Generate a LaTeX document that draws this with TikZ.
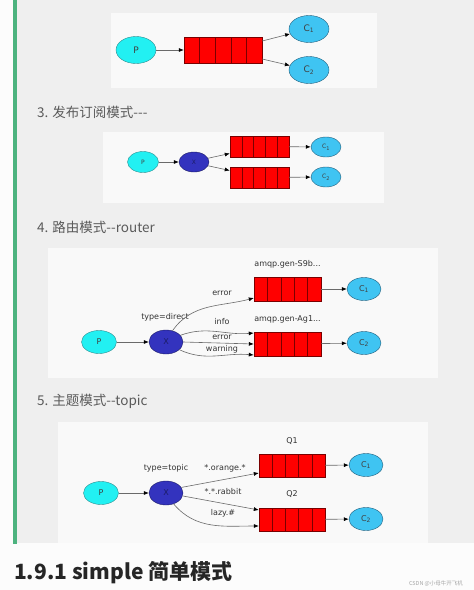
\documentclass[tikz,border=0pt]{standalone}
\usepackage{fontspec}
\setmainfont{DejaVu Sans}
\newfontfamily\cjk{Noto Sans CJK SC}
\usetikzlibrary{arrows.meta, positioning, calc}
\usetikzlibrary{shapes.geometric}

\definecolor{pagewhite}{HTML}{FCFCFC}
\definecolor{pagegray}{HTML}{EFEFEF}
\definecolor{panelwhite}{HTML}{F9F9F9}
\definecolor{barGreen}{HTML}{4DB37F}
\definecolor{pcyan}{HTML}{22F0F2}
\definecolor{pborder}{HTML}{2B8C8E}
\definecolor{cblue}{HTML}{3FC4F2}
\definecolor{cborder}{HTML}{22607E}
\definecolor{xblue}{HTML}{3333BE}
\definecolor{xborder}{HTML}{1C1C66}
\definecolor{qred}{HTML}{FF0000}
\definecolor{qborder}{HTML}{7A0000}
\definecolor{linegray}{HTML}{6A6A6A}
\definecolor{textgray}{HTML}{333333}
\definecolor{headgray}{HTML}{5A5A5A}

\begin{document}
\begin{tikzpicture}[x=1pt, y=-1pt,
    every node/.style={font=\fontsize{8}{9}\selectfont, text=textgray, inner sep=1pt}, % labels of the three big diagrams
    panel/.style={fill=panelwhite, draw=none},
    heading/.style={anchor=west, font=\cjk\fontsize{13.5}{16}\selectfont, text=headgray},
    producer/.style={ellipse, draw=pborder, fill=pcyan, minimum width=35pt, minimum height=23pt, inner sep=0pt, text=black!75},
    exchange/.style={ellipse, draw=xborder, fill=xblue, minimum width=34pt, minimum height=24pt, inner sep=0pt, text=xborder},
    consumer/.style={ellipse, draw=cborder, fill=cblue, minimum width=34pt, minimum height=23pt, inner sep=0pt, text=black!75},
    queue/.style={rectangle, draw=qborder, fill=qred, minimum width=67pt, minimum height=24pt, inner sep=0pt,
        path picture={\foreach \k in {1,...,4} \draw[qborder] ($(path picture bounding box.north west)!\k/5!(path picture bounding box.north east)$) -- ($(path picture bounding box.south west)!\k/5!(path picture bounding box.south east)$);}},
    small/.style={minimum width=30pt, minimum height=20pt, font=\fontsize{6}{7}\selectfont},
    line/.style={draw=linegray, -{Latex[length=5pt, width=4pt, color=black]}, line width=0.6pt}
]

% page background
\path[fill=pagewhite] (0,0) rectangle (474,590);
\useasboundingbox (0,0) rectangle (474,590);
\path[fill=pagegray] (17,0) rectangle (474,543);
\path[fill=barGreen] (13,0) rectangle (17,544);

% simple / work queues
\path[panel] (111,13) rectangle (377,88);
\node[producer, minimum width=40pt, minimum height=27pt, font=\fontsize{9}{10}\selectfont] (p1) at (136,50) {P};
\node[queue, minimum width=78pt, minimum height=26pt] (q1) at (223,50) {};
\node[consumer, minimum width=40pt, minimum height=27pt, font=\fontsize{9}{10}\selectfont] (c11) at (309,29) {C\textsubscript{1}};
\node[consumer, minimum width=40pt, minimum height=27pt, font=\fontsize{9}{10}\selectfont] (c12) at (309,70) {C\textsubscript{2}};
\path[line] (p1) -- (q1);
\path[line] ([yshift=9pt]q1.east) -- (c11);
\path[line] ([yshift=-9pt]q1.east) -- (c12);

% publish / subscribe
\node[heading] (h2) at (36,112) {3. 发布订阅模式---};
\path[panel] (103,132) rectangle (384,203);
\node[producer, small, minimum width=31pt, minimum height=21pt] (p2) at (143,162) {P};
\node[exchange, small] (x2) at (194,162) {X};
\node[queue, minimum width=59pt, minimum height=21pt] (q21) at (259.5,146.5) {};
\node[queue, minimum width=59pt, minimum height=21pt] (q22) at (259.5,177.5) {};
\node[consumer, small] (c21) at (326,147) {C\textsubscript{1}};
\node[consumer, small] (c22) at (326,177) {C\textsubscript{2}};
\path[line] (p2) -- (x2);
\path[line] (x2.15) -- ([yshift=-7pt]q21.west);
\path[line] (x2.-15) -- ([yshift=7pt]q22.west);
\path[line] (q21) -- (c21);
\path[line] (q22) -- (c22);

% routing
\node[heading] (h3) at (36,227) {4. 路由模式--router};
\path[panel] (48,248) rectangle (438,378);
\node[producer] (p3) at (99,342) {P};
\node[exchange] (x3) at (166,342) {X};
\node[queue] (q31) at (287.5,289) {};
\node[queue] (q32) at (287.5,344) {};
\node[consumer] (c31) at (364,289) {C\textsubscript{1}};
\node[consumer] (c32) at (364,343) {C\textsubscript{2}};
\node[above=7pt of q31] (n31) {amqp.gen-S9b...};
\node[above=7pt of q32] (n32) {amqp.gen-Ag1...};
\node (t3) at (165,317) {type=direct};
\node (e31) at (222,293) {error};
\node (e32) at (222,322) {info};
\node (e33) at (222,337) {error};
\node (e34) at (222,349.5) {warning};
\path[line] (p3) -- (x3);
\path[line] (x3.60) to[out=55, in=195] ([yshift=-9pt]q31.west);
\path[line] (x3.25) to[out=20, in=185] ([yshift=11pt]q32.west);
\path[line] (x3.east) -- (q32.west);
\path[line] (x3.-30) to[out=-25, in=175] ([yshift=-11pt]q32.west);
\path[line] (q31) -- (c31);
\path[line] (q32) -- (c32);

% topics
\node[heading] (h4) at (36,401) {5. 主题模式--topic};
\path[panel] (58,422) rectangle (428,543);
\node[producer] (p4) at (101,493) {P};
\node[exchange] (x4) at (166,493) {X};
\node[queue, minimum width=66pt, minimum height=23pt] (q41) at (292,465.5) {};
\node[queue, minimum width=66pt, minimum height=23pt] (q42) at (292,519.5) {};
\node[consumer] (c41) at (366,465) {C\textsubscript{1}};
\node[consumer] (c42) at (366,519) {C\textsubscript{2}};
\node (n41) at (292,441) {Q1};
\node (n42) at (292,494) {Q2};
\node (t4) at (166,468) {type=topic};
\node (e41) at (225,468) {*.orange.*};
\node (e42) at (223,492) {*.*.rabbit};
\node (e43) at (223,513) {lazy.\#};
\path[line] (p4) -- (x4);
\path[line] (x4.20) -- ([yshift=-7.5pt]q41.west);
\path[line] (x4.-10) -- ([yshift=9.5pt]q42.west);
\path[line] (x4.-55) to[out=-50, in=180] ([yshift=-6.5pt]q42.west);
\path[line] (q41) -- (c41);
\path[line] (q42) -- (c42);

% next section
\node[anchor=west, font=\cjk\bfseries\fontsize{21}{24}\selectfont, text=black!85] (title) at (13,573) {1.9.1 simple 简单模式};
\node[font=\cjk\fontsize{5.5}{6}\selectfont, text=black!35] (mark) at (436,584) {CSDN @小母牛开飞机};

\end{tikzpicture}
\end{document}
